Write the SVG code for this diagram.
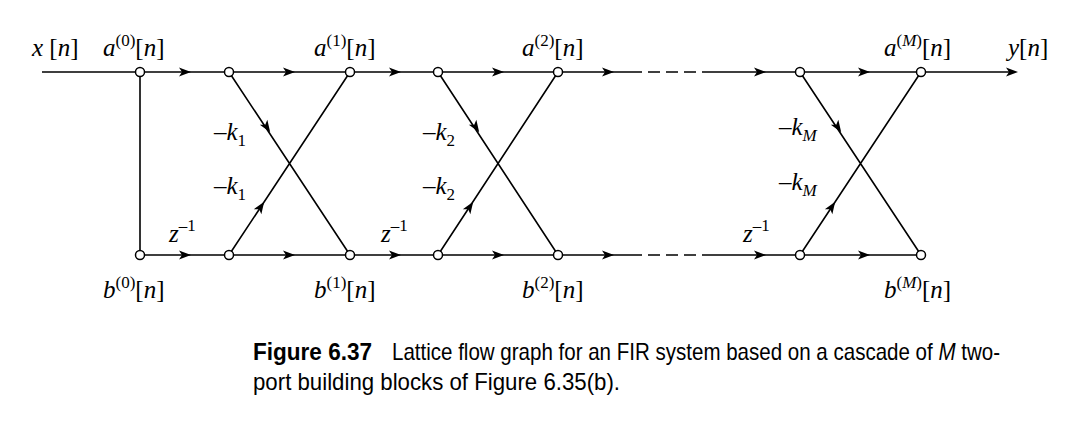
<svg xmlns="http://www.w3.org/2000/svg" width="1072" height="428" viewBox="0 0 1072 428">
<style>
.l{stroke:#000;stroke-width:1.6;fill:none}
.n{fill:#fff;stroke:#000;stroke-width:1.5}
.t{font-family:"Liberation Serif",serif;font-style:italic;font-size:25px}
.u{font-family:"Liberation Serif",serif;font-style:normal;font-size:25px}
.s{font-size:17px}
.c{font-family:"Liberation Sans",sans-serif;font-size:24px}
</style>
<defs>
<path id="ar" d="M-8,-4.5 L4,0 L-8,4.5 L-5,0 Z" fill="#000"/>
</defs>
<rect width="1072" height="428" fill="#fff"/>
<g id="connectors">
<path class="l" d="M42,72H630 M713,72H1012 M140,72V255 M140,255H630 M713,255H921 M229,72L350,255 M229,255L350,72 M438,72L558,255 M438,255L558,72 M800,72L921,255 M800,255L921,72"/>
<path class="l" d="M630,72H713 M630,255H713" stroke-dasharray="12,6"/>
<use href="#ar" x="187" y="72"/><use href="#ar" x="291" y="72"/><use href="#ar" x="397" y="72"/><use href="#ar" x="500" y="72"/><use href="#ar" x="610" y="72"/><use href="#ar" x="762" y="72"/><use href="#ar" x="866" y="72"/><use href="#ar" x="1014" y="72"/>
<use href="#ar" x="187" y="255"/><use href="#ar" x="291" y="255"/><use href="#ar" x="397" y="255"/><use href="#ar" x="500" y="255"/><use href="#ar" x="610" y="255"/><use href="#ar" x="762" y="255"/><use href="#ar" x="866" y="255"/>
<g transform="translate(268,129) rotate(56.5)"><use href="#ar"/></g>
<g transform="translate(262,205) rotate(-56.5)"><use href="#ar"/></g>
<g transform="translate(477,129) rotate(56.5)"><use href="#ar"/></g>
<g transform="translate(471,205) rotate(-56.5)"><use href="#ar"/></g>
<g transform="translate(839,129) rotate(56.5)"><use href="#ar"/></g>
<g transform="translate(833,205) rotate(-56.5)"><use href="#ar"/></g>
</g>
<g id="nodes">
<circle class="n" cx="140" cy="72" r="4.5"/><circle class="n" cx="229" cy="72" r="4.5"/><circle class="n" cx="350" cy="72" r="4.5"/><circle class="n" cx="438" cy="72" r="4.5"/><circle class="n" cx="558" cy="72" r="4.5"/><circle class="n" cx="800" cy="72" r="4.5"/><circle class="n" cx="921" cy="72" r="4.5"/>
<circle class="n" cx="140" cy="255" r="4.5"/><circle class="n" cx="229" cy="255" r="4.5"/><circle class="n" cx="350" cy="255" r="4.5"/><circle class="n" cx="438" cy="255" r="4.5"/><circle class="n" cx="558" cy="255" r="4.5"/><circle class="n" cx="800" cy="255" r="4.5"/><circle class="n" cx="921" cy="255" r="4.5"/>
</g>
<g id="labels">
<text class="t" x="32" y="56">x<tspan class="u"> [</tspan>n<tspan class="u">]</tspan></text>
<text class="t" x="103" y="56">a<tspan class="u s" dy="-10">(0)</tspan><tspan class="u" dy="10">[</tspan>n<tspan class="u">]</tspan></text>
<text class="t" x="314" y="56">a<tspan class="u s" dy="-10">(1)</tspan><tspan class="u" dy="10">[</tspan>n<tspan class="u">]</tspan></text>
<text class="t" x="522" y="56">a<tspan class="u s" dy="-10">(2)</tspan><tspan class="u" dy="10">[</tspan>n<tspan class="u">]</tspan></text>
<text class="t" x="884" y="56">a<tspan class="s" dy="-10"><tspan class="u s">(</tspan>M<tspan class="u s">)</tspan></tspan><tspan class="u" dy="10">[</tspan>n<tspan class="u">]</tspan></text>
<text class="t" x="1008" y="56">y<tspan class="u">[</tspan>n<tspan class="u">]</tspan></text>
<text class="t" x="103" y="298">b<tspan class="u s" dy="-10">(0)</tspan><tspan class="u" dy="10">[</tspan>n<tspan class="u">]</tspan></text>
<text class="t" x="314" y="298">b<tspan class="u s" dy="-10">(1)</tspan><tspan class="u" dy="10">[</tspan>n<tspan class="u">]</tspan></text>
<text class="t" x="522" y="298">b<tspan class="u s" dy="-10">(2)</tspan><tspan class="u" dy="10">[</tspan>n<tspan class="u">]</tspan></text>
<text class="t" x="884" y="298">b<tspan class="s" dy="-10"><tspan class="u s">(</tspan>M<tspan class="u s">)</tspan></tspan><tspan class="u" dy="10">[</tspan>n<tspan class="u">]</tspan></text>
<text class="t" x="214" y="140"><tspan class="u">–</tspan>k<tspan class="u s" dy="6">1</tspan></text>
<text class="t" x="214" y="194"><tspan class="u">–</tspan>k<tspan class="u s" dy="6">1</tspan></text>
<text class="t" x="423" y="140"><tspan class="u">–</tspan>k<tspan class="u s" dy="6">2</tspan></text>
<text class="t" x="423" y="194"><tspan class="u">–</tspan>k<tspan class="u s" dy="6">2</tspan></text>
<text class="t" x="779" y="135"><tspan class="u">–</tspan>k<tspan class="s" dy="6">M</tspan></text>
<text class="t" x="779" y="190"><tspan class="u">–</tspan>k<tspan class="s" dy="6">M</tspan></text>
<text class="t" x="169" y="242">z<tspan class="u s" dy="-11">–1</tspan></text>
<text class="t" x="381" y="242">z<tspan class="u s" dy="-11">–1</tspan></text>
<text class="t" x="743" y="242">z<tspan class="u s" dy="-11">–1</tspan></text>
</g>
<g id="caption">
<text class="c" x="253" y="360" font-weight="bold" textLength="119" lengthAdjust="spacingAndGlyphs">Figure 6.37</text>
<text class="c" x="392" y="360" textLength="608" lengthAdjust="spacingAndGlyphs">Lattice flow graph for an FIR system based on a cascade of <tspan font-style="italic">M</tspan> two-</text>
<text class="c" x="253" y="390" textLength="367" lengthAdjust="spacingAndGlyphs">port building blocks of Figure 6.35(b).</text>
</g>
</svg>
